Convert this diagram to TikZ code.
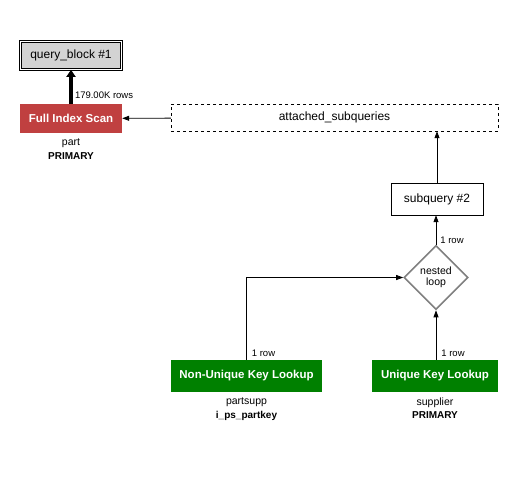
\documentclass[tikz,border=0pt]{standalone}
\usepackage{fontspec}
\setmainfont{Liberation Sans}
\usetikzlibrary{arrows.meta}
\usetikzlibrary{positioning}
\usetikzlibrary{shapes.geometric}
\definecolor{qbgray}{HTML}{D3D3D3}
\definecolor{scanred}{HTML}{C04040}
\definecolor{lookgreen}{HTML}{008000}
\definecolor{loopgray}{HTML}{808080}

\begin{document}
\begin{tikzpicture}[x=1pt,y=-1pt,
    op/.style={fill=#1, text=white, font=\bfseries\fontsize{11.5}{13}\selectfont,
      minimum height=31pt, inner sep=0pt},
    plain/.style={draw, font=\fontsize{12}{14}\selectfont, inner sep=0pt},
    tbl/.style={font=\fontsize{10.5}{12}\selectfont, inner sep=1pt},
    idx/.style={font=\bfseries\fontsize{10}{12}\selectfont, inner sep=1pt},
    rows/.style={font=\fontsize{9.5}{11}\selectfont, inner sep=1pt},
    flow/.style={draw, line width=0.8pt, -{Triangle[length=7pt,width=5pt]}}]
  \useasboundingbox (0,0) rectangle (518,483);

  % query block and its scan
  \node[plain, fill=qbgray, double=white, double distance=1.5pt, line width=0.7pt,
    minimum width=101pt, minimum height=28pt] (qb) at (71,55.5) {query\_block \#1};
  \node[op=scanred, minimum width=102pt, minimum height=29pt] (fis) at (71,118.5) {Full Index Scan};
  \node[tbl, below=4pt of fis] (fis-tbl) {part};
  \node[idx, below=2.5pt of fis-tbl] {PRIMARY};

  % subqueries
  \node[plain, dashed, minimum width=327pt, minimum height=27pt] (att) at (334.5,117.5) {attached\_subqueries};
  \node[plain, minimum width=92pt, minimum height=32pt] (sq) at (437,199) {subquery \#2};
  \node[diamond, draw=loopgray, line width=1.6pt, minimum width=64pt, minimum height=64pt,
    inner sep=0pt, align=center, font=\fontsize{10.5}{11}\selectfont] (nl) at (436,277.5) {nested\\loop};

  % lookups
  \node[op=lookgreen, minimum width=151pt, minimum height=32pt] (nukl) at (246.5,376) {Non-Unique Key Lookup};
  \node[tbl, below=4pt of nukl] (nukl-tbl) {partsupp};
  \node[idx, below=2.5pt of nukl-tbl] {i\_ps\_partkey};
  \node[op=lookgreen, minimum width=126pt, minimum height=32pt] (ukl) at (435,376) {Unique Key Lookup};
  \node[tbl, below=4pt of ukl] (ukl-tbl) {supplier};
  \node[idx, below=2.5pt of ukl-tbl] {PRIMARY};

  % connectors
  \draw[draw, line width=4pt, -{Triangle[length=7pt,width=9pt]}] (fis) -- (qb)
    node[rows, pos=0.25, right=1pt] {179.00K rows};
  \draw[flow] (att) -- (fis);
  \draw[flow] (sq) -- (sq |- att.south);
  \draw[flow] (nl) -- (nl |- sq.south) node[rows, pos=0, anchor=south west, xshift=3pt] {1 row};
  \draw[flow] (nukl.north) |- (nl.west) node[rows, pos=0, anchor=south west, xshift=4pt, yshift=2pt] {1 row};
  \draw[flow] (ukl.north -| nl) -- (nl.south) node[rows, pos=0, anchor=south west, xshift=4pt, yshift=2pt] {1 row};
\end{tikzpicture}
\end{document}
